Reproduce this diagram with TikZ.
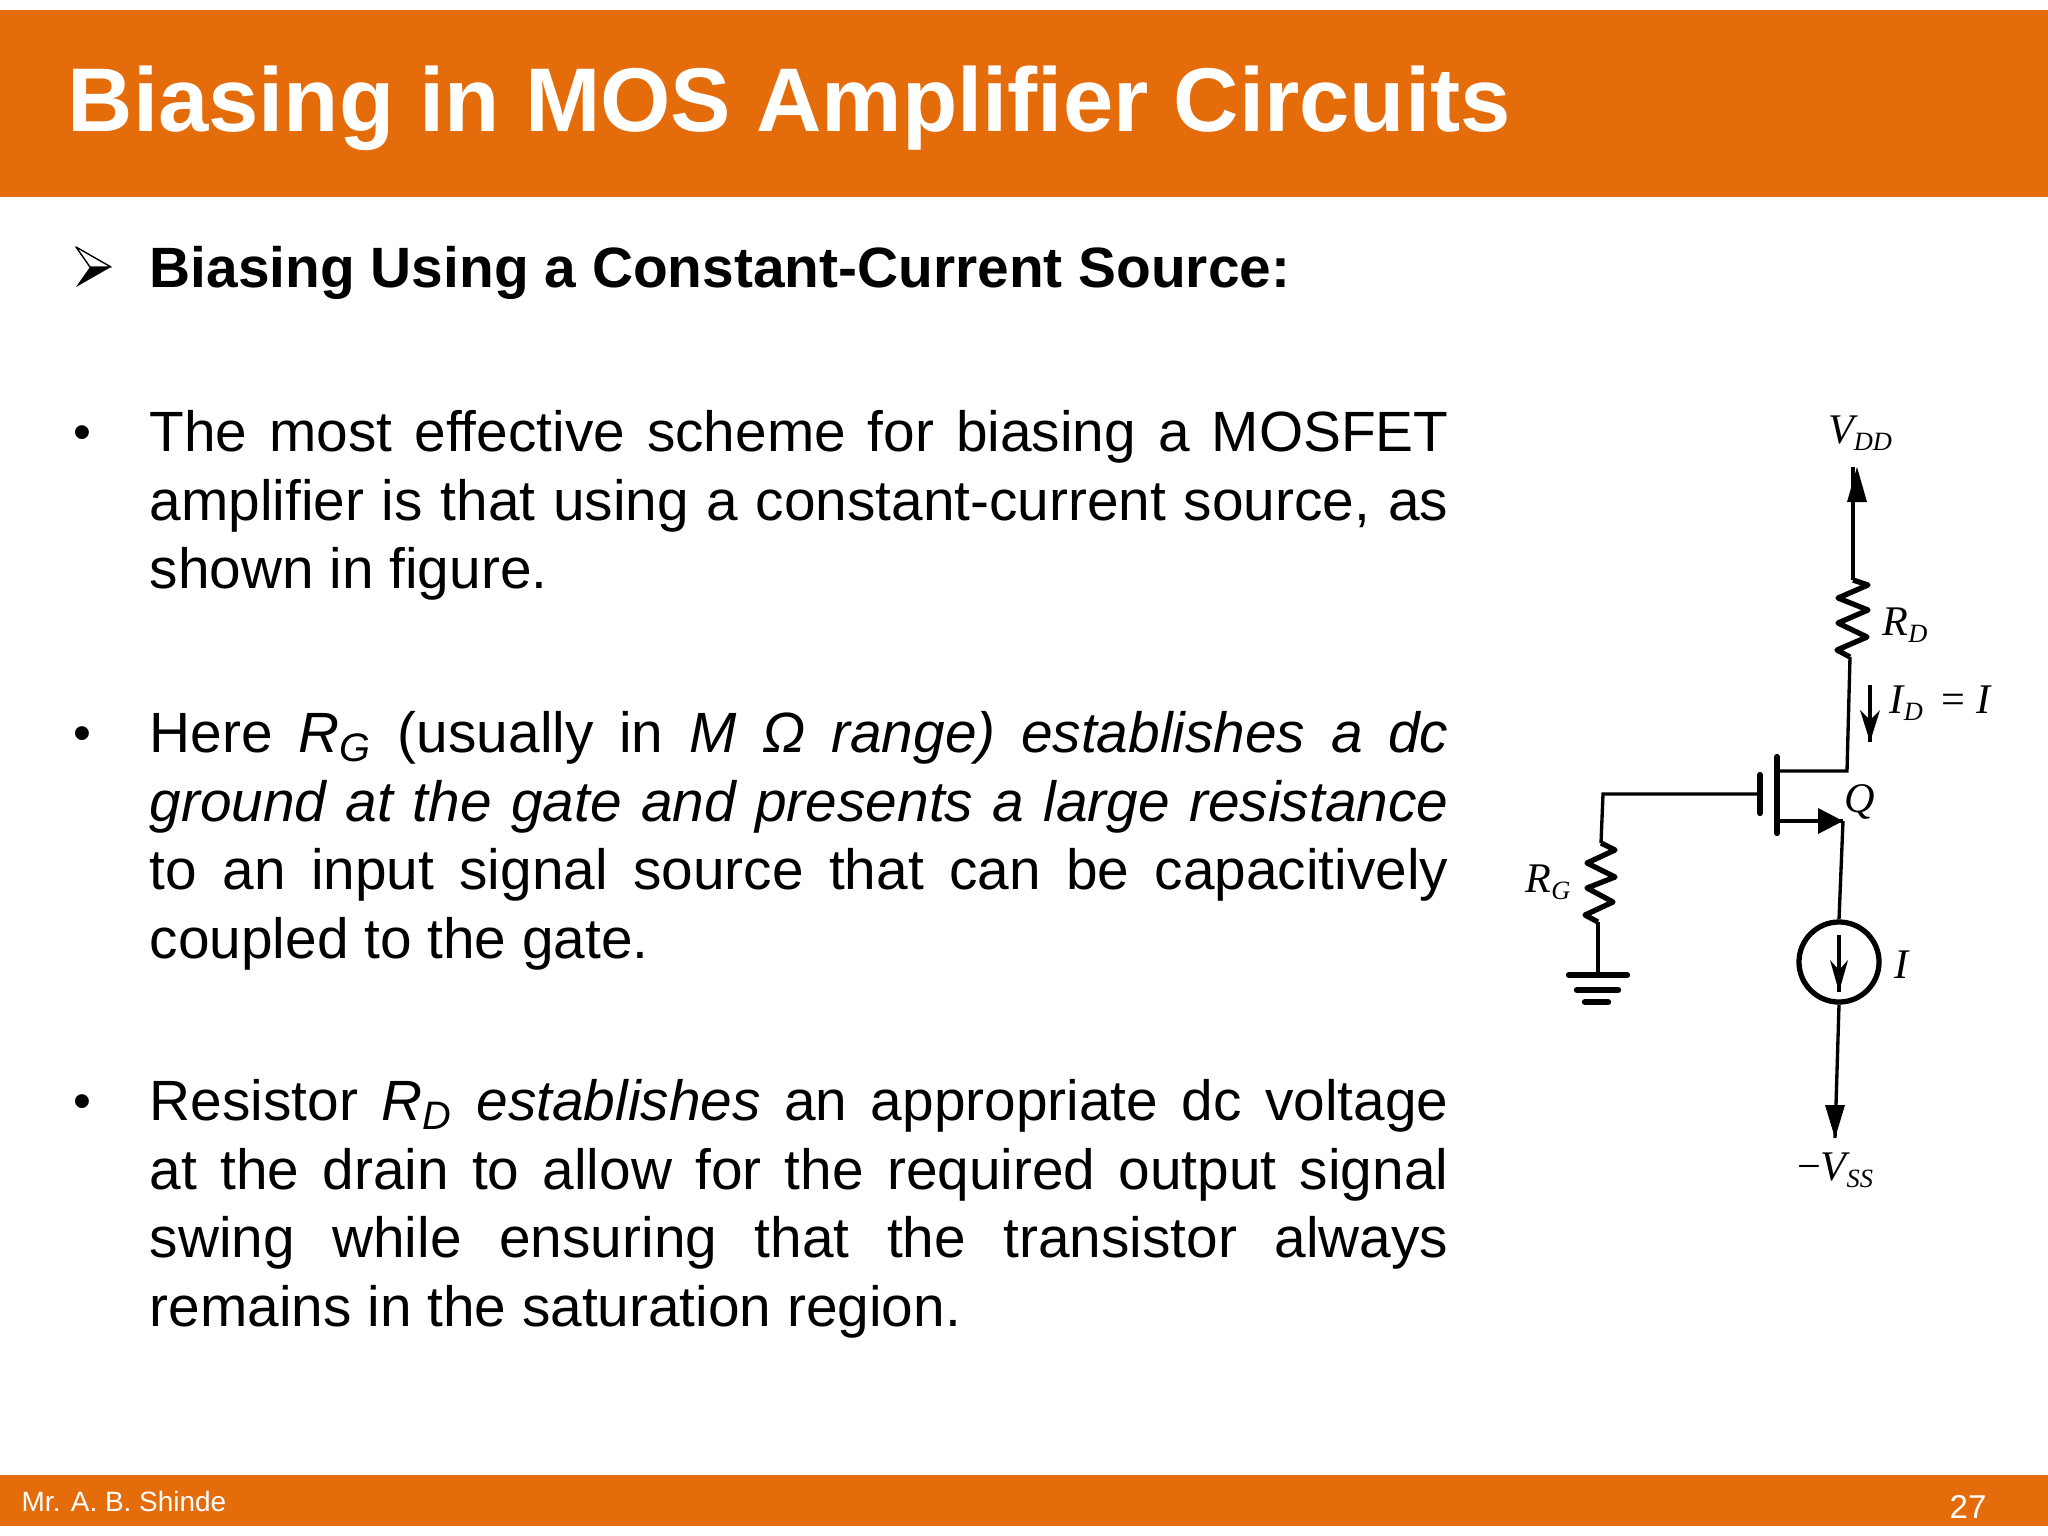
\documentclass[tikz,border=0pt]{standalone}
\usepackage{fontspec}
\setmainfont{Liberation Sans}
\newfontfamily\figfont{Liberation Serif}
\usepackage{tikz}
\definecolor{barorange}{HTML}{E46C0A}
\newcommand{\figlabel}[2]{{\figfont\itshape #1\raisebox{-0.35ex}{\fontsize{7.5}{8}\selectfont #2}}}
\tikzset{
  wire/.style={black,line width=0.95pt},
  heavy/.style={black,line width=1.5pt,line join=round},
  plate/.style={black,line width=1.8pt,line cap=round},
  figtext/.style={inner sep=0pt,font=\fontsize{12}{14}\selectfont},
  para/.style={inner sep=0pt,anchor=north west,text width=12.98cm,align=justify,font=\fontsize{16.15}{19.45}\selectfont},
  bulletmark/.style={inner sep=0pt,anchor=base west,font=\fontsize{14.5}{19.45}\selectfont},
}
\begin{document}
\begin{tikzpicture}[x=0.01cm,y=0.01cm]
    \useasboundingbox (0,0) rectangle (2048,-1536);
    \fill [barorange] (0,-10) rectangle (2048,-197);
    \fill [barorange] (0,-1475) rectangle (2048,-1526);
    \node [inner sep=0pt,anchor=base west,text=white,font=\fontsize{25.73}{30}\selectfont\bfseries] (title) at (67,-131) {Biasing in MOS Amplifier Circuits};
    \node [inner sep=0pt,anchor=base west,text=white,font=\fontsize{7.95}{9}\selectfont] (author) at (21,-1511) {Mr. A. B. Shinde};
    \node [inner sep=0pt,anchor=base west,text=white,font=\fontsize{9.4}{11}\selectfont] (page) at (1949,-1518) {27};
    \coordinate (mark) at (76,-247);
    \fill [black] (mark) ++(14,-20) -- ++(21,0) -- ++(-35,-20) -- cycle;
    \draw [black,line width=0.4pt,line join=round] (mark) -- ++(35,-20) -- ++(-21,0) -- cycle;
    \node [inner sep=0pt,anchor=base west,font=\fontsize{16.17}{19}\selectfont\bfseries] (heading) at (149,-287) {Biasing Using a Constant-Current Source:};
    \node [para] (first) at (149,-410) {The most effective scheme for biasing a MOSFET\linebreak amplifier is that using a constant-current source, as\linebreak shown in figure.};
    \node [para] (second) at (149,-711) {Here \textit{R}\textsubscript{\textit{G}} (usually in \textit{M Ω range) establishes a dc\linebreak ground at the gate and presents a large resistance}\linebreak to an input signal source that can be capacitively\linebreak coupled to the gate.};
    \node [para] (third) at (149,-1079) {Resistor \textit{R}\textsubscript{\textit{D}} \textit{establishes} an appropriate dc voltage\linebreak at the drain to allow for the required output signal\linebreak swing while ensuring that the transistor always\linebreak remains in the saturation region.};
    \node [bulletmark] (firstdot) at (73,-449) {•};
    \node [bulletmark] (seconddot) at (73,-750) {•};
    \node [bulletmark] (thirddot) at (73,-1118) {•};
    \coordinate (vddtip) at (1857,-467);
    \coordinate (rdtop) at (1853,-580);
    \coordinate (rdbot) at (1850,-657);
    \coordinate (drain) at (1847,-771);
    \coordinate (chdrain) at (1777,-771);
    \coordinate (chtop) at (1777,-757);
    \coordinate (chbot) at (1777,-833);
    \coordinate (gtop) at (1760,-775);
    \coordinate (gbot) at (1760,-813);
    \coordinate (gate) at (1760,-794);
    \coordinate (gcorner) at (1603,-794);
    \coordinate (rgtop) at (1601,-843);
    \coordinate (rgbot) at (1598,-922);
    \coordinate (gnd) at (1598,-975);
    \coordinate (chsource) at (1777,-821);
    \coordinate (source) at (1843,-821);
    \coordinate (vsstip) at (1835,-1138);
    \node [circle,draw,line width=1.5pt,inner sep=0pt,minimum size=0.8cm] (isrc) at (1839,-962) {};
    \coordinate (isrctop) at (1839,-935);
    \coordinate (isrcbot) at (1839,-992);
    \coordinate (idtop) at (1870,-685);
    \coordinate (idbot) at (1870,-742);
    \draw [wire] (rdtop) -- (rdtop |- vddtip);
    \fill [black] (vddtip) -- ++(-10,-35) -- ++(20,0);
    \draw [heavy] (rdtop) -- ++(15,-5) -- ++(-30,-13) -- ++(30,-12) -- ++(-30,-13) -- ++(29,-14) -- ++(-30,-13) -- (rdbot);
    \draw [wire] (rdbot) -- (drain) -- (chdrain);
    \draw [plate] (chtop) -- (chbot);
    \draw [plate] (gtop) -- (gbot);
    \draw [wire] (gate) -- (gcorner) -- (rgtop);
    \draw [heavy] (rgtop) -- ++(14,-7) -- ++(-28,-13) -- ++(28,-14) -- ++(-28,-11) -- ++(26,-14) -- ++(-28,-13) -- (rgbot);
    \draw [wire] (rgbot) -- (gnd);
    \draw [plate] (gnd) ++(-29,0) -- ++(58,0);
    \draw [plate] (gnd) ++(-21,-15) -- ++(41,0);
    \draw [plate] (gnd) ++(-13,-27) -- ++(23,0);
    \draw [wire] (chsource) -- (source);
    \fill [black] (source) -- ++(-25,13) -- ++(0,-26);
    \draw [wire] (source) -- (isrc.north);
    \draw [wire] (isrc.south) -- (vsstip);
    \fill [black] (vsstip) -- ++(-10,33) -- ++(20,0);
    \draw [wire] (isrctop) -- (isrcbot);
    \fill [black] (isrcbot) -- ++(-9,32) -- ++(9,-10) -- ++(9,10);
    \draw [wire] (idtop) -- (idbot);
    \fill [black] (idbot) -- ++(-10,32) -- ++(10,-10) -- ++(10,10);
    \node [figtext] (vdd) at (1860,-433) {\figlabel{V}{DD}};
    \node [figtext] (rd) at (1905,-625) {\figlabel{R}{D}};
    \node [figtext] (id) at (1940,-703) {\figlabel{I}{D} \figfont\,= \itshape I};
    \node [figtext] (q) at (1860,-802) {\figfont\itshape Q};
    \node [figtext] (rg) at (1548,-882) {\figlabel{R}{G}};
    \node [figtext] (ilabel) at (1902,-965) {\figfont\itshape I};
    \node [figtext] (vss) at (1835,-1170) {{\figfont −}\figlabel{V}{SS}};
\end{tikzpicture}
\end{document}
